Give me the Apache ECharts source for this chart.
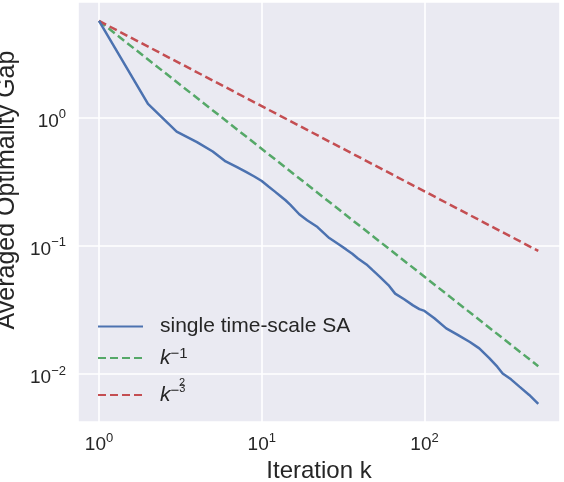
<!DOCTYPE html>
<html><head><meta charset="utf-8">
<script src="https://cdn.jsdelivr.net/npm/echarts@6/dist/echarts.min.js"></script>
<style>html,body{margin:0;padding:0;background:#fff}#c{width:564px;height:482px}</style>
</head><body><div id="c"></div>
<script>
// Iteration k values and averaged optimality gap of single time-scale SA
const iterK = [1,2,3,4,5,6,7,8,9,10,11,12,13,14,15,17,19,22,26,30,33,36,39,44,48,53,60,66,75,85,93,100,115,136,160,190,217,250,280,302,340,383,440,500];
const singleSA = [5.65,1.27,0.772,0.64,0.54,0.452,0.41,0.375,0.345,0.318,0.288,0.264,0.243,0.225,0.207,0.175,0.157,0.139,0.114,0.101,0.093,0.086,0.079,0.071,0.064,0.057,0.049,0.042,0.038,0.034,0.0318,0.0308,0.027,0.0225,0.0200,0.0176,0.0157,0.0132,0.0113,0.0100,0.0090,0.0079,0.0068,0.0058];
// Reference rate lines (end points)
const refK = [1, 500];
const refInv = [5.65, 0.0114];
const refTwoThirds = [5.65, 0.0905];
// Legend labels
const seriesNames = ['single time-scale SA', 'k^-1', 'k^-2/3'];

const FONT = 'Liberation Sans';
const TXT = '#262626';

function pairs(xs, ys) { return xs.map((x, i) => [x, ys[i]]); }

function powLabel(v) {
  const e = Math.log10(v);
  const r = Math.round(e);
  if (Math.abs(e - r) > 1e-6) return '';
  return '{b|10}{s|' + (r < 0 ? '\u2212' + (-r) : r) + '}';
}
const tickRich = {
  b: { fontSize: 19, fontFamily: FONT, color: TXT, lineHeight: 26 },
  s: { fontSize: 13, fontFamily: FONT, color: TXT, lineHeight: 2, verticalAlign: 'top' }
};

const legendRich = {
  t: { fontSize: 21, fontFamily: FONT, color: TXT, lineHeight: 24 },
  k: { fontSize: 21, fontFamily: FONT, fontStyle: 'italic', color: TXT, lineHeight: 24 },
  sup: { fontSize: 15, fontFamily: FONT, color: TXT, lineHeight: 6, verticalAlign: 'top' },
  pad: { fontSize: 8, fontFamily: FONT, lineHeight: 1, width: 19 },
  num: { fontSize: 11, fontFamily: FONT, color: TXT, lineHeight: 1 },
  mn: { fontSize: 15, fontFamily: FONT, color: TXT, lineHeight: 14, verticalAlign: 'top' },
  den: { fontSize: 11, fontFamily: FONT, color: TXT, lineHeight: 20, verticalAlign: 'top' }
};
function legendFmt(name) {
  if (name === seriesNames[1]) return '{k|k}{sup|\u22121}';
  if (name === seriesNames[2]) return '{pad| }{num|2}\n{k|k}{mn|\u2212}{den|3}';
  return '{t|' + name + '}';
}

const chart = echarts.init(document.getElementById('c'), null, { renderer: 'canvas' });
chart.setOption({
  animation: false,
  backgroundColor: '#ffffff',
  textStyle: { fontFamily: FONT, color: TXT },
  grid: { left: 78, right: 4, top: 2, bottom: 60, show: true, backgroundColor: '#EAEAF2', borderWidth: 0, containLabel: false, outerBoundsMode: 'none' },
  xAxis: {
    type: 'log', logBase: 10, min: 0.743, max: 680,
    name: 'Iteration k', nameLocation: 'middle', nameGap: 35,
    nameTextStyle: { fontSize: 24, fontFamily: FONT, color: TXT },
    axisLine: { show: false }, axisTick: { show: false }, minorTick: { show: false },
    axisLabel: { margin: 10, formatter: powLabel, rich: tickRich },
    splitLine: { show: true, lineStyle: { color: '#ffffff', width: 1.6 } }
  },
  yAxis: {
    type: 'log', logBase: 10, min: 0.00418, max: 7.94,
    name: 'Averaged Optimality Gap', nameLocation: 'middle', nameGap: 53, nameRotate: 90,
    nameTextStyle: { fontSize: 25, fontFamily: FONT, color: TXT, padding: [0, 0, 0, 44] },
    axisLine: { show: false }, axisTick: { show: false }, minorTick: { show: false },
    axisLabel: { margin: 12, padding: [8, 0, 0, 0], formatter: powLabel, rich: tickRich },
    splitLine: { show: true, lineStyle: { color: '#ffffff', width: 1.6 } }
  },
  legend: {
    orient: 'vertical', left: 97, top: 316, padding: 0, itemGap: 9,
    itemWidth: 45, itemHeight: 14, selectedMode: false,
    itemStyle: { opacity: 0 },
    data: seriesNames,
    formatter: legendFmt,
    textStyle: { fontSize: 21, fontFamily: FONT, color: TXT, padding: [0, 0, 0, 12], rich: legendRich }
  },
  series: [
    { name: seriesNames[0], type: 'line', data: pairs(iterK, singleSA), showSymbol: false, symbol: 'none',
      lineStyle: { color: '#4C72B0', width: 2.5 }, itemStyle: { color: '#4C72B0' }, z: 3 },
    { name: seriesNames[1], type: 'line', data: pairs(refK, refInv), showSymbol: false, symbol: 'none',
      lineStyle: { color: '#55A868', width: 2.5, type: [8, 4] }, itemStyle: { color: '#55A868' }, z: 2 },
    { name: seriesNames[2], type: 'line', data: pairs(refK, refTwoThirds), showSymbol: false, symbol: 'none',
      lineStyle: { color: '#C44E52', width: 2.5, type: [8, 4] }, itemStyle: { color: '#C44E52' }, z: 2 }
  ]
});
</script>
</body></html>
